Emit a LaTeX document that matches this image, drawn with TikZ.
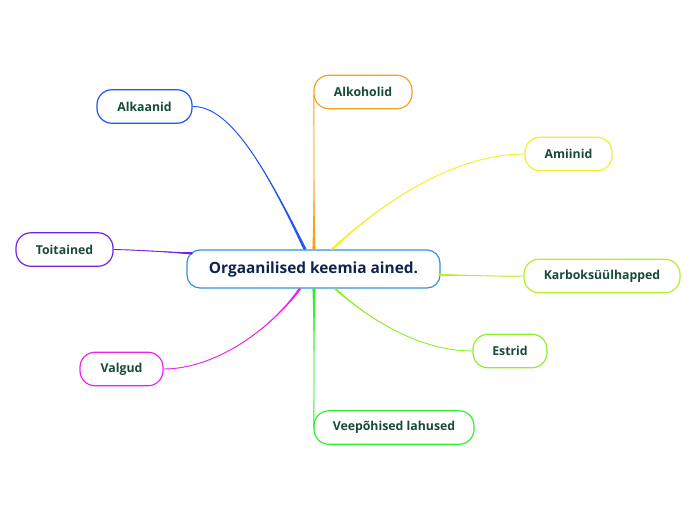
\documentclass[tikz,border=0pt]{standalone}
\usepackage{fontspec}
\setmainfont{Open Sans}
\usetikzlibrary{calc}
\definecolor{cblue}{HTML}{1F55F5}
\definecolor{corange}{HTML}{F7A21B}
\definecolor{cyellow}{HTML}{F7EF22}
\definecolor{cpurple}{HTML}{7022E8}
\definecolor{ckarb}{HTML}{B5EF25}
\definecolor{cestr}{HTML}{8EF02C}
\definecolor{cmag}{HTML}{EE22EE}
\definecolor{cgreen}{HTML}{2EF02E}
\definecolor{ccentral}{HTML}{3A8FD6}
\definecolor{ctext}{HTML}{174A38}
\definecolor{cnavy}{HTML}{0D2450}
\newcommand\mmtaper[6]{%
  \fill[#1] (#2) .. controls (#3) and (#4) .. ($(#5)+(#6)$) -- ($(#5)-(#6)$) .. controls (#4) and (#3) .. (#2) -- cycle;
  \draw[#1, line width=0.9pt] (#2) .. controls (#3) and (#4) .. (#5);}
\tikzset{
  leaf/.style={draw=#1, line width=1.2pt, fill=white, rounded corners=15pt,
    minimum height=33.5pt, inner sep=0pt, text=ctext,
    font=\fontsize{12.3}{14}\selectfont\bfseries},
  central/.style={draw=ccentral, line width=1.2pt, fill=white, rounded corners=13pt,
    minimum height=38pt, minimum width=253pt, inner sep=0pt, text=cnavy,
    font=\fontsize{15.4}{18}\selectfont\bfseries}
}
\begin{document}
\begin{tikzpicture}[x=1pt,y=-1pt]
\useasboundingbox (0,0) rectangle (696,520);
\fill[white] (0,0) rectangle (696,520);
\node[central] (c) at (313.5,269) {Orgaanilised keemia ained.};
\node[leaf=cblue, minimum width=95pt] (al) at (144.5,106.5) {Alkaanid};
\node[leaf=corange, minimum width=98pt] (ak) at (363,92) {Alkoholid};
\node[leaf=cyellow, minimum width=87pt] (am) at (568.5,154) {Amiinid};
\node[leaf=cpurple, minimum width=97pt] (to) at (64.5,249.5) {Toitained};
\node[leaf=ckarb, minimum width=156pt] (ka) at (602,276) {Karboksüülhapped};
\node[leaf=cestr, minimum width=74pt] (es) at (510,351) {Estrid};
\node[leaf=cmag, minimum width=83pt] (va) at (121.5,369) {Valgud};
\node[leaf=cgreen, minimum width=160pt] (ve) at (394,427.5) {Veepõhised lahused};
\coordinate (eAl) at ($(c.north)+(-8.5,0)$);
\coordinate (eAk) at ($(c.north)+(0.5,0)$);
\coordinate (eAm) at ($(c.north)+(18.5,0)$);
\coordinate (eTo) at ($(c.north west)+(6,4)$);
\coordinate (eKa) at ($(c.east)+(-2,6)$);
\coordinate (eEs) at ($(c.south)+(21.5,0)$);
\coordinate (eVa) at ($(c.south)+(-13.5,0)$);
\coordinate (eVe) at ($(c.south)+(0.5,0)$);
\coordinate (sAk) at ($(ak.west)+(0.5,3)$);
\coordinate (sVe) at ($(ve.west)+(0.5,0)$);
\mmtaper{cblue}{al.east}{228,106}{262,160}{eAl}{1.6,0}
\mmtaper{corange}{sAk}{314,150}{314,200}{eAk}{1.6,0}
\mmtaper{cyellow}{am.west}{460,154}{390,195}{eAm}{1.6,0}
\mmtaper{cpurple}{to.east}{140,250}{165,252}{eTo}{0,1.2}
\mmtaper{ckarb}{ka.west}{495,276.5}{465,275}{eKa}{0,1.2}
\mmtaper{cestr}{es.west}{420,351}{370,320}{eEs}{1.6,0}
\mmtaper{cmag}{va.east}{215,369}{270,330}{eVa}{1.6,0}
\mmtaper{cgreen}{sVe}{314,380}{314,330}{eVe}{1.6,0}
\end{tikzpicture}
\end{document}
